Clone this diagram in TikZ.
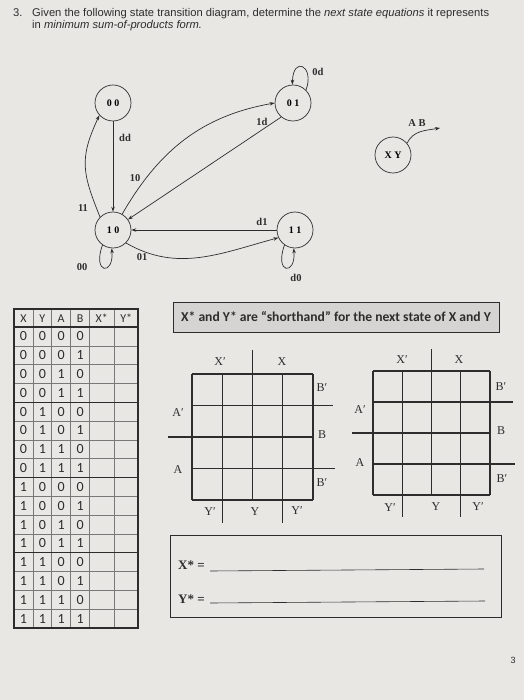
\documentclass[tikz,border=0pt]{standalone}
\usepackage{fontspec}
\setmainfont{Liberation Serif}
\newfontfamily\arialf{Liberation Sans}
\newfontfamily\calib{Carlito}
\usetikzlibrary{arrows.meta}
\definecolor{paper}{RGB}{233,231,228}
\definecolor{ink}{RGB}{45,45,45}
\definecolor{banner}{RGB}{214,212,210}
\definecolor{gridg}{RGB}{120,120,120}
\begin{document}
\begin{tikzpicture}[x=1pt,y=1pt,
 state/.style={circle,draw=ink,line width=0.7pt,minimum size=36pt,inner sep=0pt,font=\bfseries\fontsize{10}{11}\selectfont},
 arr/.style={draw=ink,line width=0.7pt,-{Stealth[length=5pt,width=3.5pt]}},
 elab/.style={font=\bfseries\fontsize{10.5}{11}\selectfont,inner sep=0pt,text=ink},
 kml/.style={font=\fontsize{12}{13}\selectfont,inner sep=0pt,text=ink},
 kline/.style={line width=1.1pt,draw=ink},
 tthin/.style={line width=0.6pt,draw=gridg},
 tthick/.style={line width=1.3pt,draw=ink},
 cell/.style={font=\calib\fontsize{14}{15}\selectfont,inner sep=0pt,text=ink},
 ttl/.style={anchor=base west,inner sep=0pt,font=\arialf\fontsize{11.2}{12}\selectfont,text=ink},
 eqt/.style={anchor=base west,inner sep=0pt,font=\bfseries\fontsize{13}{14}\selectfont,text=ink},
]
\fill[paper] (0,0) rectangle (524,-700);
\useasboundingbox (0,0) rectangle (524,-700);

% title
\node[ttl] (num) at (13,-17) {3.};
\node[ttl] (t1) at (32,-17) {Given the following state transition diagram, determine the \textit{next state equations} it represents};
\node[ttl] (t2) at (32,-29) {in \textit{minimum sum-of-products form.}};

% state diagram
\node[state] (s00) at (113,-103) {0 0};
\node[state] (s01) at (293,-103) {0 1};
\node[state] (s10) at (113,-230) {1 0};
\node[state] (s11) at (295,-230) {1 1};

\draw[arr] (s00) -- (s10);
\node[elab] (ldd) at (125,-138) {dd};
\draw[arr] (s10.135) to[out=112,in=245,looseness=1.2] (s00.222);
\node[elab] (l11) at (83,-208) {11};
\draw[arr] (s10.60) to[out=60,in=190] (s01.180);
\node[elab] (l10) at (135,-178) {10};
\draw[arr] (s01.230) -- (s10.35);
\node[elab] (l1d) at (262,-122) {1d};
\draw[arr] (s11) -- (s10);
\node[elab] (ld1) at (262,-222) {d1};
\draw[arr] (s10.-45) to[out=-30,in=195] (s11.205);
\node[elab] (l01) at (142,-257) {01};
\draw[arr] (s10.235) .. controls (92,-274) and (114,-276) .. (s10.266);
\node[elab] (l00) at (82,-267) {00};
\draw[arr] (s11.235) .. controls (274,-274) and (296,-276) .. (s11.266);
\node[elab] (ld0) at (296,-278) {d0};
\draw[arr] (s01.45) .. controls (315,-66) and (293,-55) .. (s01.92);
\node[elab] (l0d) at (318,-72) {0d};

% legend
\node[state] (sxy) at (393,-155) {X Y};
\coordinate (abend) at (440,-128);
\draw[arr] (sxy.40) to[out=65,in=190] (abend);
\node[elab] (lab) at (417,-123) {A B};

% truth table
\foreach \k in {0,...,15} {
 \pgfmathtruncatemacro\bx{div(\k,8)}
 \pgfmathtruncatemacro\by{mod(div(\k,4),2)}
 \pgfmathtruncatemacro\ba{mod(div(\k,2),2)}
 \pgfmathtruncatemacro\bb{mod(\k,2)}
 \pgfmathsetmacro\yy{-(327+18.81*(\k+0.5))}
 \node[cell] (tx\k) at (23.5,\yy) {\bx};
 \node[cell] (ty\k) at (42.3,\yy) {\by};
 \node[cell] (ta\k) at (61.2,\yy) {\ba};
 \node[cell] (tb\k) at (80.1,\yy) {\bb};
}
\foreach \k in {1,2,3,5,6,7,9,10,11,13,14,15} {
 \draw[tthin] (14,{-(327+18.81*\k)}) -- (138,{-(327+18.81*\k)});
}
\foreach \xx in {32.8,51.7,70.6,89.5,114} {
 \draw[tthin] (\xx,-309) -- (\xx,-628);
}
\foreach \k in {0,4,8,12} {
 \draw[tthick] (14,{-(327+18.81*\k)}) -- (138,{-(327+18.81*\k)});
}
\draw[tthick] (14,-309) rectangle (138,-628);
\node[cell,font=\calib\fontsize{12}{13}\selectfont] (hx) at (23.5,-318.5) {X};
\node[cell,font=\calib\fontsize{12}{13}\selectfont] (hy) at (42.3,-318.5) {Y};
\node[cell,font=\calib\fontsize{12}{13}\selectfont] (ha) at (61.2,-318.5) {A};
\node[cell,font=\calib\fontsize{12}{13}\selectfont] (hb) at (80.1,-318.5) {B};
\node[cell,font=\calib\fontsize{12}{13}\selectfont] (hxs) at (101.7,-318.5) {X*};
\node[cell,font=\calib\fontsize{12}{13}\selectfont] (hys) at (126.2,-318.5) {Y*};

% banner
\node[draw=ink,line width=0.8pt,fill=banner,minimum width=326pt,minimum height=30pt,inner sep=0pt,
 font=\calib\bfseries\fontsize{13.6}{14}\selectfont,text=ink] (ban) at (336,-317)
 {X* and Y* are “shorthand” for the next state of X and Y};

% left K-map
\foreach \xx in {192,222.25,252.5,282.75,313} { \draw[kline] (\xx,-374) -- (\xx,-500); }
\foreach \yy in {374,500} { \draw[kline] (192,-\yy) -- (313,-\yy); }
\draw[kline] (192,-405.5) -- (333,-405.5);
\draw[kline] (168,-437) -- (313,-437);
\draw[kline] (192,-468.5) -- (335,-468.5);
\draw[kline] (252.5,-350) -- (252.5,-374);
\draw[kline] (222.25,-500) -- (222.25,-523);
\draw[kline] (282.75,-500) -- (282.75,-523);
\node[kml] (lxp) at (220,-362) {X′};
\node[kml] (lx) at (282,-362) {X};
\node[kml] (lbp1) at (322,-388) {B′};
\node[kml] (lb) at (322,-435) {B};
\node[kml] (lbp2) at (322,-483) {B′};
\node[kml] (lap) at (178,-413) {A′};
\node[kml] (la) at (178,-470) {A};
\node[kml] (lyp1) at (210,-512) {Y′};
\node[kml] (ly) at (255,-512) {Y};
\node[kml] (lyp2) at (297,-511) {Y′};

% right K-map
\foreach \xx in {373,402.25,431.5,460.75,490} { \draw[kline] (\xx,-371) -- (\xx,-495); }
\foreach \yy in {371,495} { \draw[kline] (373,-\yy) -- (490,-\yy); }
\draw[kline] (373,-402) -- (513,-402);
\draw[kline] (352,-433) -- (490,-433);
\draw[kline] (373,-464) -- (515,-464);
\draw[kline] (431.5,-349) -- (431.5,-371);
\draw[kline] (402.25,-495) -- (402.25,-517);
\draw[kline] (460.75,-495) -- (460.75,-517);
\node[kml] (rxp) at (402,-360) {X′};
\node[kml] (rx) at (459,-360) {X};
\node[kml] (rbp1) at (501,-387) {B′};
\node[kml] (rb) at (501,-431) {B};
\node[kml] (rbp2) at (502,-479) {B′};
\node[kml] (rap) at (360,-410) {A′};
\node[kml] (ra) at (360,-463) {A};
\node[kml] (ryp1) at (390,-508) {Y′};
\node[kml] (ry) at (436,-507) {Y};
\node[kml] (ryp2) at (478,-507) {Y′};

% answer box
\draw[draw=ink,line width=0.7pt] (170,-535) rectangle (501,-617);
\node[eqt] (xeq) at (178,-569) {X* =};
\node[eqt] (yeq) at (178,-603) {Y* =};
\coordinate (xl1) at (210,-571); \coordinate (xl2) at (484,-569);
\coordinate (yl1) at (210,-603); \coordinate (yl2) at (485,-601);
\draw[ink,line width=0.6pt] (xl1) -- (xl2);
\draw[ink,line width=0.6pt] (yl1) -- (yl2);

% page number
\node[inner sep=0pt,font=\arialf\fontsize{9}{10}\selectfont,text=ink] (pg) at (513,-660) {3};
\end{tikzpicture}
\end{document}
